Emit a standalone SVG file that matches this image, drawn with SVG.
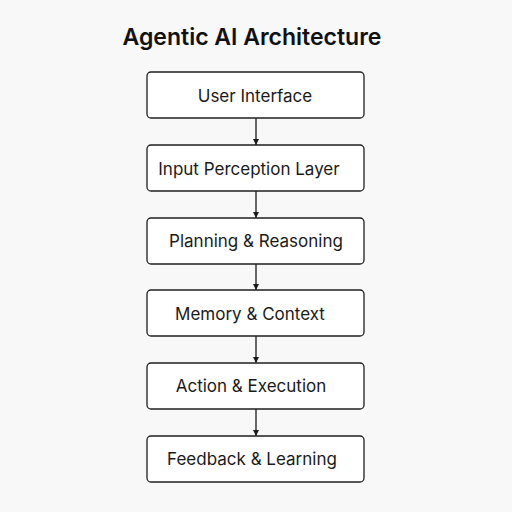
<svg xmlns="http://www.w3.org/2000/svg" width="512" height="512" viewBox="0 0 512 512">
<defs>
<marker id="ah" viewBox="0 0 10 10" refX="10" refY="5" markerWidth="6" markerHeight="6" orient="auto" markerUnits="userSpaceOnUse">
<path d="M0,0 L10,5 L0,10 z" fill="#1a1a1a"/>
</marker>
<style>
.box{fill:#ffffff;stroke:#1f1f1f;stroke-width:1.3}
.lbl{font-family:Inter,"Liberation Sans",sans-serif;font-size:17px;fill:#1a1a1a;text-anchor:middle}
.ttl{font-family:Inter,"Liberation Sans",sans-serif;font-size:23px;font-weight:600;fill:#111;text-anchor:middle}
.con{stroke:#1a1a1a;stroke-width:1.3;fill:none}
</style>
</defs>
<rect width="512" height="512" fill="#f8f8f8"/>
<text class="ttl" x="252" y="45">Agentic AI Architecture</text>
<g id="connectors">
<line class="con" x1="256" y1="118" x2="256" y2="145" marker-end="url(#ah)"/>
<line class="con" x1="256" y1="191" x2="256" y2="218" marker-end="url(#ah)"/>
<line class="con" x1="256" y1="264" x2="256" y2="290" marker-end="url(#ah)"/>
<line class="con" x1="256" y1="336" x2="256" y2="363" marker-end="url(#ah)"/>
<line class="con" x1="256" y1="409" x2="256" y2="436" marker-end="url(#ah)"/>
</g>
<g id="n1"><rect class="box" x="147" y="72" width="217" height="46" rx="4"/><text class="lbl" x="255" y="102">User Interface</text></g>
<g id="n2"><rect class="box" x="147" y="145" width="217" height="46" rx="4"/><text class="lbl" x="249" y="175">Input Perception Layer</text></g>
<g id="n3"><rect class="box" x="147" y="218" width="217" height="46" rx="4"/><text class="lbl" x="256" y="247">Planning &amp; Reasoning</text></g>
<g id="n4"><rect class="box" x="147" y="290" width="217" height="46" rx="4"/><text class="lbl" x="250" y="320">Memory &amp; Context</text></g>
<g id="n5"><rect class="box" x="147" y="363" width="217" height="46" rx="4"/><text class="lbl" x="251" y="392">Action &amp; Execution</text></g>
<g id="n6"><rect class="box" x="147" y="436" width="217" height="46" rx="4"/><text class="lbl" x="252" y="465">Feedback &amp; Learning</text></g>
</svg>
